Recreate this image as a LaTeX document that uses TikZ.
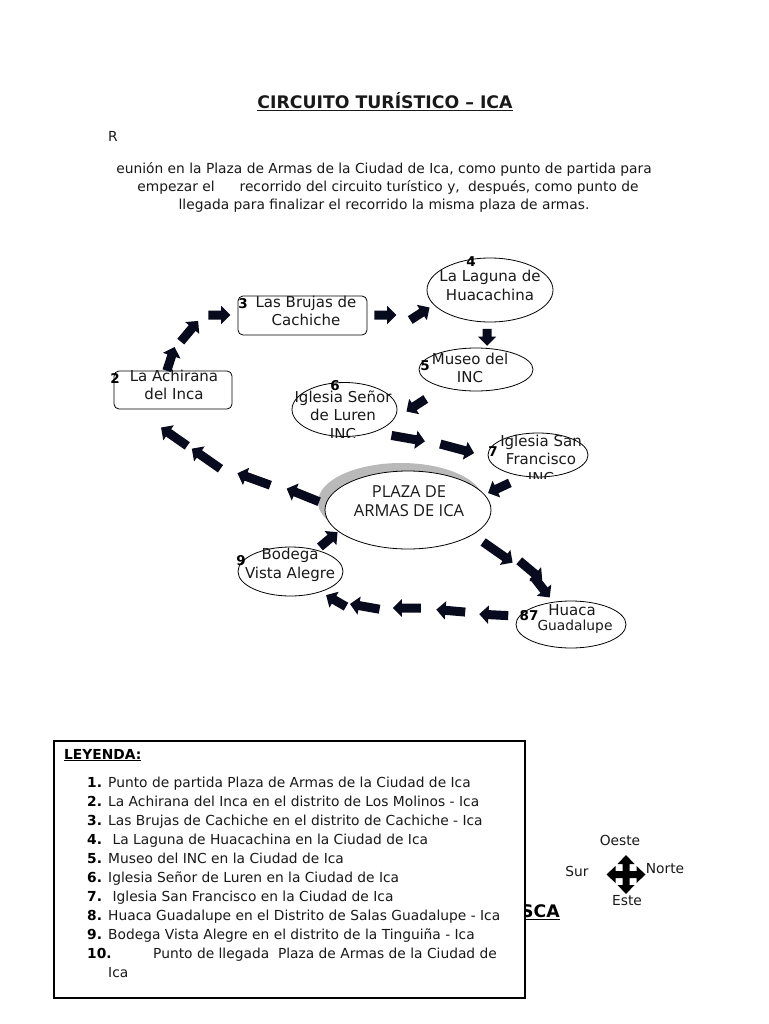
\documentclass[tikz,border=0pt]{standalone}
\usepackage{fontspec}
\setmainfont{DejaVu Sans}
\newfontfamily\plazafont{Open Sans}
\usetikzlibrary{shapes.geometric,shapes.arrows}
\definecolor{arrowc}{RGB}{8,10,30}
\definecolor{txt}{RGB}{25,25,25}
\tikzset{
  lbl/.style={text=txt,align=center,inner sep=0pt,font=\fontsize{15}{18.5}\selectfont},
  num/.style={text=black,inner sep=0pt,font=\bfseries\fontsize{13.5}{15}\selectfont},
  oval/.style={draw=black,line width=0.8pt,ellipse,inner sep=0pt,fill=white},
  rbox/.style={draw=black,line width=0.8pt,rounded corners=5pt,rectangle,inner sep=0pt,fill=white},
  blockarr/.style={single arrow,fill=arrowc,draw=none,inner xsep=0pt,inner ysep=4.3pt,minimum width=18pt,single arrow head extend=4.7pt,single arrow head indent=0pt},
  body/.style={text=txt,inner sep=0pt,font=\fontsize{13.8}{16}\selectfont},
  legtxt/.style={body,anchor=base west},
  legnum/.style={text=black,inner sep=0pt,anchor=base west,font=\bfseries\fontsize{13.8}{16}\selectfont},
}
\begin{document}
\begin{tikzpicture}[x=1pt,y=-1pt]
\useasboundingbox[fill=white] (0,0) rectangle (768,1024);

% title and intro
\node[inner sep=0pt,text=txt,font=\bfseries\fontsize{17.3}{20}\selectfont] (title) at (385,102) {\underline{CIRCUITO TURÍSTICO – ICA}};
\node[legtxt] (r) at (108,142) {R};
\node[body] (p1) at (384,169) {eunión en la Plaza de Armas de la Ciudad de Ica, como punto de partida para};
\node[body] (p2) at (388,187) {empezar el\hspace{25pt}recorrido del circuito turístico y,\hspace{4pt} después, como punto de};
\node[body] (p3) at (384,206) {llegada para finalizar el recorrido la misma plaza de armas.};

% places
\node[fill=gray!55,ellipse,minimum width=166pt,minimum height=78pt,inner sep=0pt] (plazash) at (401,502) {};
\node[oval,minimum width=166pt,minimum height=78pt] (plaza) at (408,510) {};
\node[lbl,font=\plazafont\fontsize{16.5}{18.5}\selectfont] (plazat) at (409,501) {PLAZA DE\\ARMAS DE ICA};

\node[rbox,minimum width=129pt,minimum height=39pt] (brujas) at (302.5,315.5) {};
\node[lbl] (brujast) at (306,311) {Las Brujas de\\Cachiche};
\node[num] (n3) at (243,304) {3};

\node[rbox,minimum width=118pt,minimum height=38pt] (achirana) at (173,390) {};
\node[lbl] (achiranat) at (174,385) {La Achirana\\del Inca};
\node[num] (n2) at (115,378) {2};

\node[oval,minimum width=126pt,minimum height=64pt] (laguna) at (490,290) {};
\node[lbl] (lagunat) at (490,285.5) {La Laguna de\\Huacachina};
\node[num] (n4) at (471,262) {4};

\node[oval,minimum width=114pt,minimum height=43pt] (museo) at (476,369.5) {};
\node[lbl] (museot) at (470,368) {Museo del\\INC};
\node[num] (n5) at (425,366) {5};

\node[oval,minimum width=105pt,minimum height=54pt] (luren) at (344.5,409.5) {};
\begin{scope}
\clip (280,380) rectangle (420,437.5);
\node[lbl] (lurent) at (343,415) {Iglesia Señor\\de Luren\\INC};
\end{scope}
\node[num] (n6) at (335,386) {6};

\node[oval,minimum width=100pt,minimum height=44pt] (sanfr) at (538,455) {};
\begin{scope}
\clip (480,428) rectangle (600,478);
\node[lbl] (sanfrt) at (541,459) {Iglesia San\\Francisco\\INC};
\end{scope}
\node[num] (n7) at (493,452) {7};

\node[oval,minimum width=105pt,minimum height=49pt] (bodega) at (290.5,571.5) {};
\node[lbl] (bodegat) at (290,565) {Bodega\\Vista Alegre};
\node[num] (n9) at (241,561) {9};

\node[oval,minimum width=110pt,minimum height=47pt] (huaca) at (571,624.5) {};
\node[lbl] (huacat) at (572,610) {Huaca};
\node[lbl,font=\fontsize{13.8}{16}\selectfont] (huacat2) at (575,627) {Guadalupe};
\node[num] (n87) at (529,616) {87};

% block arrows
\foreach \x/\y/\a/\l/\n in {
  170/361/72/25/a1, 188/333/50/27/a2, 217/315/0/22/a3, 383/315/0/22/a4,
  418/315/33/23/a5, 487/335/-90/17/a6, 418/404/213/23/a7,
  406/438/-10/34/a8, 455/448/-15/35/a9, 501/487/205/24/a10,
  305/496/158/35/a11, 256/480/160/35/a12, 208/460/145/35/a13, 176/438/145/32/a14,
  327/541/40/23/a15, 338/602/150/23/a16, 367/607/170/30/a17, 409/608/180/28/a18,
  453/611/175/29/a19, 496/615/177/29/a20, 496/551/-35/36/a21,
  529/569/-40/30/a22, 540/585/-52/27/a23}
  \node[blockarr,minimum height=\l pt,rotate=\a] (\n) at (\x,\y) {};

% hidden heading behind legend
\node[inner sep=0pt,anchor=west,text=black,font=\bfseries\fontsize{17.3}{20}\selectfont] (sca) at (521,912) {\underline{SCA}};

% legend
\node[draw=black,line width=1.5pt,fill=white,rectangle,minimum width=471pt,minimum height=257pt,inner sep=0pt] (legend) at (289.5,869.5) {};
\node[legnum] (leyenda) at (64,759) {\underline{LEYENDA:}};
\foreach \i/\t [count=\k] in {
  1/Punto de partida Plaza de Armas de la Ciudad de Ica,
  2/La Achirana del Inca en el distrito de Los Molinos - Ica,
  3/Las Brujas de Cachiche en el distrito de Cachiche - Ica,
  4/\ La Laguna de Huacachina en la Ciudad de Ica,
  5/Museo del INC en la Ciudad de Ica,
  6/Iglesia Señor de Luren en la Ciudad de Ica,
  7/\ Iglesia San Francisco en la Ciudad de Ica,
  8/Huaca Guadalupe en el Distrito de Salas Guadalupe - Ica,
  9/Bodega Vista Alegre en el distrito de la Tinguiña - Ica}
{
  \node[legnum] (ln\i) at (87,{787+(\k-1)*19}) {\i.};
  \node[legtxt] (lt\i) at (108,{787+(\k-1)*19}) {\t};
}
\node[legnum] (ln10) at (87,958) {10.};
\node[legtxt] (lt10) at (153,958) {Punto de llegada\ \ Plaza de Armas de la Ciudad de};
\node[legtxt] (lt10b) at (108,977) {Ica};

% compass
\node[body] (oeste) at (620,840) {Oeste};
\node[body] (sur) at (577,871) {Sur};
\node[body] (norte) at (665,869) {Norte};
\node[body] (este) at (627,901) {Este};
\coordinate (cc) at (626,874.5);
\fill[black] (cc) ++(0,-19.5) -- ++(8.5,9) -- ++(-5,0) -- ++(0,7) -- ++(7,0) -- ++(0,-5) -- ++(9,8.5) -- ++(-9,8.5) -- ++(0,-5) -- ++(-7,0) -- ++(0,7) -- ++(5,0) -- ++(-8.5,9) -- ++(-8.5,-9) -- ++(5,0) -- ++(0,-7) -- ++(-7,0) -- ++(0,5) -- ++(-9,-8.5) -- ++(9,-8.5) -- ++(0,5) -- ++(7,0) -- ++(0,-7) -- ++(-5,0) -- cycle;
\end{tikzpicture}
\end{document}
